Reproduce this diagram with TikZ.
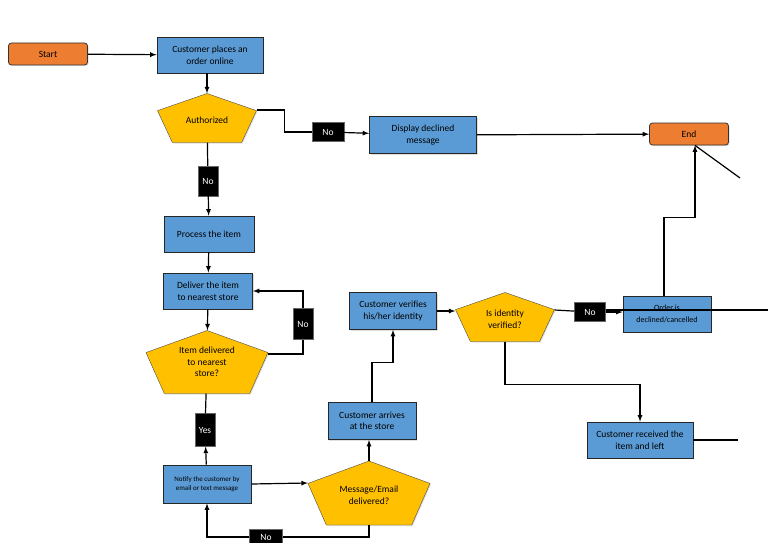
\documentclass[tikz,border=0pt]{standalone}
\usepackage{fontspec}
\setmainfont{Carlito}
\usetikzlibrary{shadows,calc}
\definecolor{boxblue}{RGB}{91,155,213}
\definecolor{termorange}{RGB}{237,125,49}
\definecolor{decyellow}{RGB}{255,192,0}
\tikzset{
  process/.style={draw=black!85, thick, fill=boxblue, align=center, font=\fontsize{9.5}{11.5}\selectfont, drop shadow={opacity=.25,shadow xshift=1pt,shadow yshift=-1pt}},
  term/.style={draw=black!80, thick, fill=termorange, rounded corners=3pt, minimum width=79pt, minimum height=22pt, font=\fontsize{9.5}{11.5}\selectfont, drop shadow={opacity=.25,shadow xshift=1pt,shadow yshift=-1pt}},
  decfill/.style={draw=black!70, fill=decyellow, drop shadow={opacity=.25,shadow xshift=1pt,shadow yshift=-1pt}},
  dectext/.style={align=center, inner sep=0pt, font=\fontsize{9.5}{11.5}\selectfont},
  tag/.style={fill=black, draw=black!60, text=white, inner sep=0pt, font=\fontsize{9.5}{11.5}\selectfont},
  line/.style={line width=1.2pt},
  arr/.style={line width=1.2pt, -latex}
}
% name, cx, cy, w, h, text
\newcommand\decision[6]{%
  \path[decfill] (#2,{#3-#5/2}) -- ({#2+#4/2},{#3-0.15*#5}) -- ({#2+0.35*#4},{#3+#5/2})
    -- ({#2-0.35*#4},{#3+#5/2}) -- ({#2-#4/2},{#3-0.15*#5}) -- cycle;
  \node[dectext, minimum width=#4pt, minimum height=#5pt] (#1) at (#2,#3) {#6};}
\begin{document}
\begin{tikzpicture}[x=1pt,y=-1pt]
\useasboundingbox (0,0) rectangle (768,543);
\node[term] (start) at (48,54) {Start};
\node[process, minimum width=106pt, minimum height=36pt] (order) at (210,55) {Customer places an\\order online};
\decision{auth}{207}{118}{99}{49}{\\Authorized}
\node[tag, minimum width=32pt, minimum height=19pt] (no1) at (328,132) {No};
\node[process, minimum width=107pt, minimum height=37pt] (declined) at (423,135) {Display declined\\message};
\node[term] (end) at (689,134) {End};
\node[tag, minimum width=20pt, minimum height=30pt] (no2) at (208,181) {No};
\node[process, minimum width=90pt, minimum height=36pt] (process) at (209,234) {Process the item};
\node[process, minimum width=89pt, minimum height=36pt] (deliver) at (208,291) {Deliver the item\\to nearest store};
\decision{itemdel}{207}{362}{122}{63}{Item delivered\\to nearest\\store?}
\node[tag, minimum width=20pt, minimum height=31pt] (no3) at (303,324) {No};
\node[tag, minimum width=20pt, minimum height=33pt] (yes) at (205,430) {Yes};
\node[process, minimum width=88pt, minimum height=38pt, font=\fontsize{7}{9}\selectfont] (notify) at (207,484) {Notify the customer by\\email or text message};
\decision{msg}{369}{493}{122}{64}{\\Message/Email\\delivered?}
\node[tag, minimum width=33pt, minimum height=15pt] (no4) at (266,537) {No};
\node[process, minimum width=88pt, minimum height=37pt] (arrives) at (372,421) {Customer arrives\\at the store};
\node[process, minimum width=87pt, minimum height=37pt] (verifies) at (393,311) {Customer verifies\\his/her identity};
\decision{identity}{505}{317}{99}{49}{\\Is identity\\verified?}
\node[tag, minimum width=31pt, minimum height=19pt] (no5) at (590,312) {No};
\node[process, minimum width=88pt, minimum height=36pt, font=\fontsize{8}{12}\selectfont] (orderdecl) at (667,314) {Order is\\declined/cancelled};
\node[process, minimum width=106pt, minimum height=36pt] (received) at (640,440) {Customer received the\\item and left};
\coordinate (rightend) at (768,310);
\coordinate (tail) at (740,178);
\coordinate (rcvtail) at (738,440);

\draw[arr] (start) -- (order);
\draw[arr] (order.south -| auth.north) -- (auth.north);
\draw[line] ([yshift=8pt]auth.east) -- ++(28,0) |- (no1);
\draw[arr] (no1) -- (declined);
\draw[arr] (declined) -- (end);
\draw[line] (auth) -- (no2);
\draw[arr] (no2) -- (process);
\draw[arr] (process) -- (deliver);
\draw[arr] (deliver) -- (itemdel);
\draw[line] ([yshift=8pt]itemdel.east) -| (no3);
\draw[arr] (no3) |- (deliver);
\draw[arr] (notify) -- (yes);
\draw[line] (yes) -- (itemdel);
\draw[arr] (notify.east) -- ([yshift=10pt]msg.west);
\draw[line] (msg.south) |- (no4);
\draw[arr] (no4) -| (notify.south);
\draw[arr] (msg.north) -- (msg.north |- arrives.south);
\draw[arr] (arrives.north) -- ++(0,-40) -| (verifies.south);
\draw[arr] (verifies.east) -- (verifies.east -| identity.west);
\draw[line] ([yshift=7pt]identity.east) -- (no5);
\draw[arr] (no5) -- (no5 -| orderdecl.west);
\draw[line] (no5.east |- rightend) -- (rightend);
\draw[arr] ([xshift=-3pt]orderdecl.north) -- ++(0,-78) -| ([xshift=6pt]end.south);
\draw[line] (tail) -- ([xshift=6pt]end.south);
\draw[arr] (identity.south) -- ++(0,43) -| (received.north);
\draw[line] (received) -- (rcvtail);
\end{tikzpicture}
\end{document}
